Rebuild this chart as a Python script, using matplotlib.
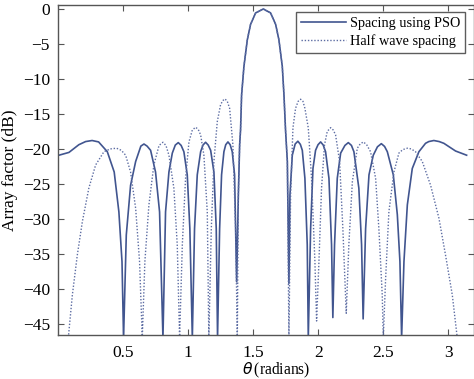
import matplotlib
matplotlib.use("Agg")
import matplotlib.pyplot as plt

# curve values (theta in radians, array factor in dB)
# -47 marks a null that runs below the bottom of the axes
pso_theta = [0.005, 0.082, 0.158, 0.21, 0.26, 0.31, 0.377, 0.43, 0.466, 0.49, 0.502,
             0.523, 0.556, 0.595, 0.635, 0.659, 0.683, 0.71, 0.748, 0.779, 0.805,
             0.825, 0.851, 0.877, 0.9, 0.923, 0.945, 0.966, 0.992, 1.012, 1.031,
             1.048, 1.069, 1.095, 1.113, 1.133, 1.153, 1.172, 1.197, 1.215, 1.225,
             1.241, 1.256, 1.274, 1.288, 1.305, 1.322, 1.338, 1.356, 1.364, 1.372,
             1.385, 1.395, 1.402, 1.41, 1.428, 1.454, 1.479, 1.518, 1.577,
             1.633, 1.672, 1.697, 1.723, 1.736, 1.748, 1.762, 1.774,
             1.782, 1.8, 1.822, 1.843, 1.862, 1.877, 1.897, 1.915, 1.923,
             1.941, 1.959, 1.979, 1.998, 2.018, 2.038, 2.056, 2.082, 2.102, 2.112,
             2.125, 2.146, 2.172, 2.205, 2.231, 2.255, 2.274, 2.312, 2.333, 2.345,
             2.364, 2.39, 2.423, 2.455, 2.485, 2.51, 2.531, 2.577, 2.608, 2.628, 2.641,
             2.659, 2.685, 2.723, 2.774, 2.825, 2.85, 2.889, 2.93, 2.966, 3.056, 3.141]
pso_db = [-20.9, -20.5, -19.4, -18.95, -18.8, -19.0, -20.4, -23.3, -29.0, -36.1, -47,
          -32.3, -25.2, -21.8, -19.6, -19.3, -19.6, -20.2, -23.3, -29.0, -47,
          -29.0, -23.3, -20.6, -19.45, -19.1, -19.5, -20.4, -23.7, -31.4, -47,
          -31.4, -23.7, -20.4, -19.45, -19.05, -19.45, -20.2, -23.3, -31.4, -47,
          -31.4, -23.7, -20.4, -19.4, -19.0, -19.4, -20.4, -23.7, -31.4, -39.0,
          -26.6, -19.4, -17.3, -12.3, -8.2, -4.4, -2.2, -0.56, 0.0,
          -0.56, -2.2, -4.4, -8.2, -12.3, -17.3, -21.8, -39.2,
          -26.6, -20.9, -19.3, -18.9, -19.35, -20.2, -24.2, -33.7, -47,
          -31.4, -22.8, -20.2, -19.4, -19.0, -19.45, -20.4, -24.2, -33.7, -44.1,
          -33.7, -24.2, -20.6, -19.5, -19.1, -19.5, -20.4, -25.6, -33.7, -44.3,
          -31.4, -23.7, -20.9, -19.7, -19.25, -19.65, -20.4, -23.7, -29.4, -36.1, -47,
          -36.1, -28.0, -22.8, -20.4, -19.2, -18.95, -18.8, -18.95, -19.2, -20.3, -20.9]

half_theta = [0.077, 0.108, 0.146, 0.185, 0.235, 0.287, 0.351, 0.4, 0.448, 0.485, 0.518,
              0.556, 0.595, 0.625, 0.646, 0.666, 0.697, 0.735, 0.775, 0.805, 0.828,
              0.851, 0.889, 0.915, 0.933, 0.954, 0.979, 1.005, 1.031, 1.056, 1.076,
              1.095, 1.12, 1.146, 1.158, 1.177, 1.197, 1.223, 1.248, 1.265, 1.282,
              1.3, 1.318, 1.343, 1.364, 1.377,
              1.385, 1.395, 1.402, 1.41, 1.428, 1.454, 1.479, 1.518, 1.577,
              1.633, 1.672, 1.697, 1.723, 1.736, 1.748, 1.762, 1.774,
              1.787, 1.805, 1.825, 1.845, 1.864, 1.882, 1.897, 1.923, 1.948, 1.974, 1.987,
              2.005, 2.025, 2.048, 2.069, 2.095, 2.115, 2.133, 2.164, 2.189, 2.215,
              2.235, 2.262, 2.3, 2.322, 2.347, 2.372, 2.402, 2.441, 2.466, 2.492, 2.5,
              2.518, 2.543, 2.582, 2.62, 2.65, 2.685, 2.715, 2.748, 2.8, 2.864, 2.928,
              2.979, 3.031, 3.069]
half_db = [-47, -40.9, -35.2, -30.4, -25.6, -22.3, -20.4, -20.0, -19.9, -20.2, -20.9,
           -23.3, -28.5, -36.1, -47, -36.1, -28.0, -22.3, -19.5, -19.05, -19.5,
           -20.9, -25.6, -33.7, -47, -33.7, -24.2, -19.0, -17.3, -16.9, -17.2,
           -18.0, -20.9, -29.0, -47, -31.4, -21.8, -16.1, -13.7, -13.1, -12.85,
           -13.2, -14.2, -19.4, -31.4, -47,
           -26.6, -19.4, -17.3, -12.3, -8.2, -4.4, -2.2, -0.56, 0.0,
           -0.56, -2.2, -4.4, -8.2, -12.3, -17.3, -21.8, -47,
           -26.6, -17.0, -14.2, -13.2, -12.9, -13.2, -14.2, -17.0, -24.2, -36.1, -44.6,
           -36.1, -25.6, -19.4, -17.5, -16.96, -17.3, -18.0, -21.8, -31.4, -43.5,
           -33.7, -24.7, -19.9, -19.3, -19.0, -19.4, -20.4, -24.2, -31.4, -40.9, -47,
           -38.5, -29.0, -23.3, -20.6, -20.1, -19.9, -20.0, -20.4, -21.8, -25.2, -29.9,
           -35.2, -40.9, -47]

xticks = [0.5, 1, 1.5, 2, 2.5, 3]
yticks = [0, -5, -10, -15, -20, -25, -30, -35, -40, -45]

plt.rcParams['font.family'] = ['Liberation Serif', 'DejaVu Serif']

fig = plt.figure(figsize=(4.74, 3.79), dpi=100)
ax = fig.add_axes([0.123, 0.1161, 0.8776, 0.8694])

ax.plot(pso_theta, pso_db, color='#41558f', lw=1.2, label='Spacing using PSO')
ax.plot(half_theta, half_db, color='#5d6da3', lw=1.0, ls=(0, (1, 1.3)),
        label='Half wave spacing')

ax.set_xlim(0, 3.2)
ax.set_ylim(-46.6, 0.5)
ax.set_xticks(xticks)
ax.set_xticklabels([f'{t:g}' for t in xticks])
ax.set_yticks(yticks)

for sp in ax.spines.values():
    sp.set_color('#555555')
    sp.set_linewidth(1.0)
ax.tick_params(direction='in', length=4, width=0.8, color='#555555',
               top=True, right=True, labelsize=12.5)
ax.tick_params(axis='y', pad=6)
ax.tick_params(axis='x', pad=7)

ax.set_ylabel('Array factor (dB)', fontsize=12.5)
ax.yaxis.set_label_coords(-0.098, 0.5)
ax.set_xlabel(r'$\theta\,$(radians)', fontsize=11.2)
ax.xaxis.set_label_coords(0.523, -0.077)

leg = ax.legend(loc='upper right', bbox_to_anchor=(0.9785, 0.9815), fontsize=10.3,
                frameon=True, fancybox=False, borderpad=0.35, labelspacing=0.3,
                handlelength=3.1, handletextpad=0.3, borderaxespad=0)
leg.get_frame().set_edgecolor('#333333')
leg.get_frame().set_linewidth(1.0)

fig.savefig('out.png', dpi=100)
